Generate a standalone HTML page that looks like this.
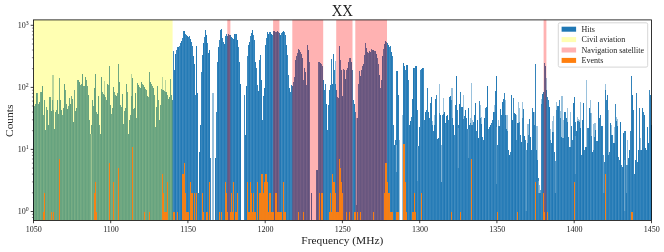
<!DOCTYPE html>
<html><head><meta charset="utf-8"><title>XX</title>
<style>
html,body{margin:0;padding:0;background:#fff}
svg{display:block}
text{font-family:"Liberation Serif","DejaVu Serif",serif;fill:#222}
</style></head><body>
<svg width="664" height="252" viewBox="0 0 664 252">
<defs>
<clipPath id="hc"><path d="M33,220.4V100.0H34.0V106.0H35.0V104.0H36.0V93.0H37.0V93.0H38.0V104.0H39.0V102.0H40.0V92.0H41.0V92.0H42.0V86.0H43.0V115.0H44.0V100.0H45.0V130.0H46.0V107.0H47.0V110.0H48.0V125.0H49.0V96.5H50.0V97.0H51.0V111.0H52.0V100.0H53.0V110.0H54.0V129.0H55.0V112.0H56.0V110.0H57.0V100.0H58.0V114.0H59.0V78.0H60.0V100.0H61.0V110.0H62.0V115.0H63.0V108.0H64.0V83.5H65.0V90.0H66.0V104.0H67.0V109.0H68.0V106.0H69.0V98.0H70.0V104.0H71.0V96.0H72.0V99.0H73.0V122.0H74.0V90.0H75.0V111.0H76.0V108.0H77.0V80.0H78.0V80.0H79.0V82.0H80.0V85.0H81.0V84.0H82.0V74.0H83.0V86.0H84.0V86.0H85.0V77.0H86.0V80.0H87.0V86.0H88.0V95.0H89.0V120.0H90.0V134.0H91.0V125.0H92.0V100.0H93.0V106.0H94.0V88.0H95.0V73.6H96.0V112.0H97.0V114.0H98.0V96.0H99.0V125.0H100.0V134.0H101.0V76.6H102.0V92.0H103.0V94.0H104.0V95.0H105.0V97.0H106.0V100.0H107.0V83.5H108.0V85.0H109.0V66.0H110.0V105.0H111.0V114.0H112.0V108.0H113.0V87.0H114.0V92.0H115.0V95.0H116.0V96.0H117.0V93.0H118.0V64.2H119.0V81.6H120.0V105.0H121.0V107.0H122.0V93.7H123.0V124.0H124.0V111.0H125.0V108.0H126.0V84.0H127.0V92.0H128.0V134.0H129.0V120.0H130.0V115.0H131.0V96.0H132.0V78.0H133.0V109.0H134.0V108.0H135.0V93.0H136.0V118.0H137.0V82.5H138.0V85.0H139.0V87.0H140.0V88.0H141.0V82.0H142.0V84.0H143.0V85.0H144.0V87.0H145.0V89.0H146.0V90.0H147.0V96.0H148.0V97.0H149.0V71.7H150.0V82.0H151.0V84.0H152.0V86.0H153.0V88.0H154.0V95.0H155.0V127.0H156.0V107.0H157.0V86.0H158.0V100.0H159.0V120.0H160.0V105.0H161.0V89.0H162.0V90.0H163.0V90.0H164.0V91.0H165.0V92.0H166.0V92.0H167.0V95.0H168.0V99.0H169.0V97.0H170.0V78.8H171.0V95.0H172.0V100.0H173.0V50.7H174.0V70.0H175.0V53.5H176.0V50.0H177.0V47.0H178.0V46.5H179.0V45.5H180.0V43.0H181.0V41.4H182.0V38.0H183.0V31.0H184.0V30.5H185.0V33.5H186.0V34.5H187.0V35.5H188.0V36.5H189.0V35.8H190.0V38.6H191.0V42.0H192.0V46.0H193.0V56.0H194.0V64.0H195.0V95.0H196.0V46.0H197.0V93.0H198.0V193.0H199.0V152.0H200.0V125.0H201.0V72.0H202.0V55.0H203.0V43.0H204.0V36.7H205.0V30.2H206.0V35.0H207.0V43.0H208.0V53.0H209.0V50.0H210.0V158.0H211.0V220.4H212.0V220.4H213.0V220.4H214.0V220.4H215.0V158.0H216.0V112.0H217.0V62.0H218.0V47.0H219.0V40.0H220.0V30.0H221.0V29.3H222.0V38.0H223.0V42.0H224.0V44.0H225.0V36.0H226.0V34.0H227.0V36.0H228.0V34.0H229.0V35.0H230.0V35.0H231.0V37.0H232.0V37.7H233.0V38.5H234.0V34.0H235.0V33.5H236.0V34.0H237.0V40.0H238.0V47.0H239.0V62.0H240.0V84.0H241.0V220.4H242.0V220.4H243.0V220.4H244.0V94.5H245.0V135.0H246.0V86.0H247.0V56.0H248.0V45.0H249.0V42.0H250.0V36.0H251.0V33.0H252.0V30.2H253.0V35.0H254.0V40.0H255.0V62.0H256.0V68.0H257.0V85.0H258.0V90.7H259.0V60.0H260.0V55.4H261.0V80.0H262.0V120.0H263.0V96.4H264.0V88.0H265.0V45.0H266.0V37.7H267.0V32.0H268.0V34.0H269.0V31.5H270.0V32.0H271.0V34.0H272.0V35.0H273.0V30.5H274.0V31.0H275.0V32.0H276.0V31.5H277.0V30.5H278.0V31.5H279.0V33.0H280.0V35.0H281.0V32.5H282.0V32.0H283.0V31.0H284.0V31.5H285.0V35.0H286.0V45.0H287.0V55.0H288.0V75.0H289.0V88.0H290.0V92.0H291.0V84.5H292.0V86.0H293.0V82.0H294.0V77.0H295.0V60.0H296.0V56.0H297.0V52.6H298.0V48.5H299.0V50.0H300.0V51.5H301.0V54.0H302.0V58.0H303.0V80.0H304.0V67.7H305.0V72.0H306.0V84.5H307.0V45.1H308.0V50.0H309.0V62.0H310.0V220.4H311.0V193.0H312.0V220.4H313.0V220.4H314.0V220.4H315.0V220.4H316.0V170.0H317.0V170.0H318.0V62.3H319.0V62.3H320.0V63.0H321.0V64.0H322.0V66.0H323.0V80.0H324.0V90.0H325.0V83.6H326.0V104.0H327.0V130.0H328.0V105.0H329.0V90.0H330.0V85.0H331.0V58.6H332.0V84.0H333.0V54.1H334.0V69.5H335.0V84.0H336.0V90.0H337.0V97.0H338.0V98.0H339.0V45.9H340.0V60.0H341.0V69.5H342.0V96.0H343.0V68.6H344.0V70.0H345.0V79.0H346.0V69.5H347.0V68.0H348.0V62.0H349.0V58.0H350.0V57.6H351.0V62.0H352.0V70.0H353.0V100.0H354.0V104.0H355.0V112.0H356.0V205.0H357.0V118.0H358.0V84.0H359.0V70.5H360.0V76.0H361.0V69.5H362.0V66.0H363.0V64.0H364.0V54.5H365.0V43.3H366.0V48.0H367.0V52.0H368.0V53.0H369.0V51.0H370.0V52.0H371.0V49.0H372.0V50.0H373.0V50.0H374.0V51.0H375.0V50.5H376.0V54.0H377.0V58.0H378.0V64.0H379.0V75.0H380.0V88.0H381.0V80.0H382.0V56.0H383.0V49.0H384.0V44.2H385.0V41.0H386.0V41.5H387.0V43.0H388.0V45.0H389.0V46.5H390.0V46.0H391.0V52.0H392.0V56.0H393.0V125.0H394.0V145.0H395.0V140.0H396.0V71.0H397.0V71.0H398.0V95.0H399.0V220.4H400.0V220.4H401.0V220.4H402.0V220.4H403.0V62.7H404.0V66.0H405.0V70.0H406.0V64.5H407.0V64.5H408.0V80.0H409.0V124.7H410.0V121.0H411.0V117.0H412.0V99.0H413.0V68.3H414.0V68.3H415.0V65.5H416.0V65.5H417.0V110.0H418.0V146.0H419.0V127.0H420.0V70.0H421.0V69.0H422.0V68.3H423.0V68.3H424.0V120.0H425.0V112.0H426.0V110.0H427.0V88.0H428.0V112.0H429.0V118.0H430.0V103.0H431.0V97.4H432.0V125.0H433.0V131.0H434.0V125.0H435.0V99.3H436.0V94.6H437.0V138.6H438.0V138.0H439.0V113.0H440.0V114.5H441.0V145.0H442.0V115.0H443.0V114.0H444.0V112.0H445.0V123.4H446.0V116.0H447.0V115.0H448.0V119.6H449.0V97.4H450.0V95.5H451.0V100.0H452.0V118.0H453.0V124.7H454.0V134.8H455.0V105.0H456.0V76.0H457.0V110.0H458.0V124.7H459.0V104.0H460.0V92.2H461.0V106.7H462.0V106.7H463.0V119.0H464.0V116.0H465.0V109.5H466.0V118.0H467.0V128.5H468.0V107.7H469.0V124.7H470.0V123.4H471.0V124.7H472.0V124.7H473.0V122.0H474.0V115.0H475.0V103.0H476.0V131.0H477.0V119.6H478.0V138.0H479.0V100.8H480.0V118.0H481.0V124.0H482.0V136.8H483.0V140.0H484.0V118.0H485.0V107.7H486.0V107.0H487.0V86.2H488.0V128.5H489.0V127.0H490.0V124.7H491.0V123.4H492.0V119.6H493.0V112.0H494.0V112.0H495.0V91.0H496.0V75.5H497.0V145.0H498.0V126.0H499.0V126.0H500.0V108.6H501.0V115.0H502.0V102.0H503.0V99.3H504.0V92.7H505.0V114.5H506.0V128.5H507.0V131.0H508.0V150.0H509.0V155.0H510.0V152.0H511.0V94.6H512.0V119.6H513.0V98.3H514.0V113.0H515.0V113.5H516.0V140.0H517.0V123.4H518.0V123.4H519.0V122.0H520.0V134.5H521.0V142.0H522.0V118.0H523.0V109.0H524.0V135.8H525.0V140.0H526.0V150.0H527.0V143.0H528.0V135.0H529.0V119.0H530.0V137.0H531.0V150.0H532.0V107.6H533.0V112.0H534.0V125.0H535.0V64.3H536.0V150.0H537.0V160.0H538.0V178.0H539.0V185.0H540.0V190.0H541.0V104.0H542.0V94.0H543.0V92.0H544.0V63.3H545.0V66.0H546.0V90.0H547.0V96.8H548.0V100.0H549.0V107.0H550.0V140.0H551.0V143.4H552.0V132.0H553.0V132.0H554.0V152.0H555.0V160.5H556.0V110.0H557.0V106.0H558.0V106.0H559.0V99.6H560.0V118.0H561.0V137.0H562.0V138.0H563.0V138.0H564.0V111.7H565.0V111.7H566.0V118.0H567.0V122.0H568.0V137.0H569.0V147.0H570.0V147.0H571.0V125.6H572.0V139.6H573.0V103.3H574.0V96.8H575.0V122.0H576.0V130.7H577.0V121.0H578.0V121.0H579.0V122.0H580.0V128.0H581.0V155.0H582.0V120.0H583.0V103.3H584.0V150.0H585.0V147.0H586.0V147.0H587.0V128.0H588.0V128.0H589.0V108.0H590.0V113.0H591.0V135.8H592.0V152.0H593.0V150.0H594.0V137.0H595.0V130.0H596.0V141.0H597.0V141.0H598.0V101.5H599.0V118.0H600.0V114.5H601.0V125.6H602.0V125.6H603.0V155.0H604.0V162.0H605.0V90.3H606.0V100.0H607.0V95.0H608.0V155.0H609.0V152.0H610.0V123.0H611.0V135.0H612.0V135.0H613.0V143.4H614.0V143.0H615.0V104.0H616.0V121.0H617.0V125.6H618.0V157.0H619.0V160.0H620.0V121.8H621.0V165.0H622.0V167.0H623.0V133.0H624.0V130.7H625.0V131.0H626.0V165.0H627.0V165.0H628.0V158.0H629.0V150.0H630.0V130.7H631.0V76.4H632.0V95.0H633.0V110.0H634.0V173.7H635.0V160.0H636.0V93.0H637.0V162.0H638.0V150.0H639.0V107.5H640.0V150.0H641.0V150.0H642.0V107.5H643.0V112.0H644.0V115.0H645.0V148.0H646.0V150.0H647.0V127.0H648.0V143.0H649.0V89.5H650.0V95.0H651.0V125.0H651.5V220.4Z"/></clipPath>
<pattern id="seam" x="33.9" y="0" width="3.09" height="10" patternUnits="userSpaceOnUse">
<rect x="0.2" y="0" width="0.9" height="10" fill="#fff" fill-opacity="0.2"/>
<rect x="1.8" y="0" width="0.4" height="10" fill="#fff" fill-opacity="0.07"/>
</pattern>
</defs>
<rect width="664" height="252" fill="#fff"/>
<path d="M33,220.4V100.0H34.0V106.0H35.0V104.0H36.0V93.0H37.0V93.0H38.0V104.0H39.0V102.0H40.0V92.0H41.0V92.0H42.0V86.0H43.0V115.0H44.0V100.0H45.0V130.0H46.0V107.0H47.0V110.0H48.0V125.0H49.0V96.5H50.0V97.0H51.0V111.0H52.0V75.0H53.0V75.0H54.0V129.0H55.0V112.0H56.0V110.0H57.0V100.0H58.0V114.0H59.0V78.0H60.0V100.0H61.0V110.0H62.0V115.0H63.0V108.0H64.0V83.5H65.0V90.0H66.0V104.0H67.0V109.0H68.0V106.0H69.0V98.0H70.0V104.0H71.0V96.0H72.0V99.0H73.0V122.0H74.0V90.0H75.0V111.0H76.0V108.0H77.0V80.0H78.0V80.0H79.0V82.0H80.0V85.0H81.0V84.0H82.0V74.0H83.0V86.0H84.0V86.0H85.0V77.0H86.0V80.0H87.0V86.0H88.0V95.0H89.0V120.0H90.0V134.0H91.0V125.0H92.0V100.0H93.0V106.0H94.0V88.0H95.0V73.6H96.0V112.0H97.0V114.0H98.0V96.0H99.0V125.0H100.0V134.0H101.0V76.6H102.0V92.0H103.0V94.0H104.0V81.0H105.0V97.0H106.0V100.0H107.0V83.5H108.0V85.0H109.0V66.0H110.0V105.0H111.0V114.0H112.0V108.0H113.0V87.0H114.0V92.0H115.0V95.0H116.0V96.0H117.0V93.0H118.0V64.2H119.0V81.6H120.0V105.0H121.0V107.0H122.0V93.7H123.0V124.0H124.0V111.0H125.0V108.0H126.0V84.0H127.0V92.0H128.0V134.0H129.0V120.0H130.0V115.0H131.0V74.0H132.0V78.0H133.0V109.0H134.0V108.0H135.0V93.0H136.0V118.0H137.0V82.5H138.0V85.0H139.0V87.0H140.0V88.0H141.0V82.0H142.0V84.0H143.0V85.0H144.0V87.0H145.0V89.0H146.0V90.0H147.0V96.0H148.0V97.0H149.0V71.7H150.0V82.0H151.0V84.0H152.0V86.0H153.0V88.0H154.0V95.0H155.0V127.0H156.0V107.0H157.0V86.0H158.0V100.0H159.0V120.0H160.0V105.0H161.0V89.0H162.0V77.0H163.0V90.0H164.0V91.0H165.0V79.7H166.0V92.0H167.0V95.0H168.0V99.0H169.0V97.0H170.0V78.8H171.0V95.0H172.0V100.0H173.0V50.7H174.0V70.0H175.0V53.5H176.0V50.0H177.0V47.0H178.0V46.5H179.0V45.5H180.0V43.0H181.0V41.4H182.0V38.0H183.0V31.0H184.0V30.5H185.0V33.5H186.0V34.5H187.0V35.5H188.0V36.5H189.0V35.8H190.0V38.6H191.0V42.0H192.0V46.0H193.0V56.0H194.0V64.0H195.0V95.0H196.0V46.0H197.0V93.0H198.0V193.0H199.0V152.0H200.0V125.0H201.0V72.0H202.0V55.0H203.0V43.0H204.0V36.7H205.0V30.2H206.0V35.0H207.0V43.0H208.0V53.0H209.0V50.0H210.0V158.0H211.0V220.4H212.0V93.0H213.0V93.0H214.0V220.4H215.0V158.0H216.0V112.0H217.0V62.0H218.0V47.0H219.0V40.0H220.0V30.0H221.0V29.3H222.0V38.0H223.0V42.0H224.0V44.0H225.0V36.0H226.0V34.0H227.0V36.0H228.0V34.0H229.0V35.0H230.0V35.0H231.0V37.0H232.0V37.7H233.0V38.5H234.0V34.0H235.0V33.5H236.0V34.0H237.0V40.0H238.0V47.0H239.0V62.0H240.0V84.0H241.0V220.4H242.0V220.4H243.0V220.4H244.0V94.5H245.0V135.0H246.0V86.0H247.0V56.0H248.0V45.0H249.0V42.0H250.0V36.0H251.0V33.0H252.0V30.2H253.0V35.0H254.0V40.0H255.0V62.0H256.0V68.0H257.0V85.0H258.0V90.7H259.0V60.0H260.0V55.4H261.0V80.0H262.0V120.0H263.0V96.4H264.0V88.0H265.0V45.0H266.0V37.7H267.0V32.0H268.0V34.0H269.0V31.5H270.0V32.0H271.0V34.0H272.0V35.0H273.0V30.5H274.0V31.0H275.0V32.0H276.0V31.5H277.0V30.5H278.0V31.5H279.0V33.0H280.0V35.0H281.0V32.5H282.0V32.0H283.0V31.0H284.0V31.5H285.0V35.0H286.0V45.0H287.0V55.0H288.0V75.0H289.0V88.0H290.0V92.0H291.0V84.5H292.0V86.0H293.0V82.0H294.0V77.0H295.0V60.0H296.0V56.0H297.0V52.6H298.0V48.5H299.0V50.0H300.0V51.5H301.0V54.0H302.0V58.0H303.0V80.0H304.0V67.7H305.0V72.0H306.0V84.5H307.0V45.1H308.0V50.0H309.0V62.0H310.0V220.4H311.0V193.0H312.0V220.4H313.0V220.4H314.0V220.4H315.0V220.4H316.0V170.0H317.0V170.0H318.0V62.3H319.0V62.3H320.0V63.0H321.0V64.0H322.0V66.0H323.0V80.0H324.0V90.0H325.0V83.6H326.0V104.0H327.0V130.0H328.0V105.0H329.0V90.0H330.0V85.0H331.0V58.6H332.0V84.0H333.0V54.1H334.0V69.5H335.0V61.4H336.0V90.0H337.0V97.0H338.0V98.0H339.0V45.9H340.0V60.0H341.0V69.5H342.0V96.0H343.0V68.6H344.0V70.0H345.0V79.0H346.0V69.5H347.0V68.0H348.0V62.0H349.0V58.0H350.0V57.6H351.0V62.0H352.0V70.0H353.0V100.0H354.0V104.0H355.0V112.0H356.0V118.0H357.0V118.0H358.0V84.0H359.0V70.5H360.0V76.0H361.0V69.5H362.0V66.0H363.0V64.0H364.0V54.5H365.0V43.3H366.0V48.0H367.0V52.0H368.0V53.0H369.0V51.0H370.0V52.0H371.0V49.0H372.0V50.0H373.0V50.0H374.0V51.0H375.0V50.5H376.0V54.0H377.0V58.0H378.0V64.0H379.0V75.0H380.0V88.0H381.0V80.0H382.0V56.0H383.0V49.0H384.0V44.2H385.0V41.0H386.0V41.5H387.0V43.0H388.0V45.0H389.0V46.5H390.0V46.0H391.0V52.0H392.0V56.0H393.0V125.0H394.0V145.0H395.0V140.0H396.0V71.0H397.0V71.0H398.0V95.0H399.0V140.0H400.0V220.4H401.0V220.4H402.0V115.0H403.0V62.7H404.0V66.0H405.0V70.0H406.0V64.5H407.0V64.5H408.0V80.0H409.0V124.7H410.0V121.0H411.0V117.0H412.0V99.0H413.0V68.3H414.0V68.3H415.0V65.5H416.0V65.5H417.0V110.0H418.0V146.0H419.0V127.0H420.0V70.0H421.0V69.0H422.0V68.3H423.0V68.3H424.0V120.0H425.0V112.0H426.0V110.0H427.0V88.0H428.0V112.0H429.0V118.0H430.0V103.0H431.0V97.4H432.0V121.0H433.0V131.0H434.0V114.5H435.0V99.3H436.0V94.6H437.0V138.6H438.0V138.0H439.0V84.3H440.0V114.5H441.0V145.0H442.0V115.0H443.0V98.3H444.0V112.0H445.0V123.4H446.0V116.0H447.0V115.0H448.0V119.6H449.0V97.4H450.0V95.5H451.0V88.4H452.0V88.4H453.0V124.7H454.0V134.8H455.0V105.0H456.0V76.0H457.0V110.0H458.0V124.7H459.0V104.0H460.0V92.2H461.0V106.7H462.0V106.7H463.0V95.2H464.0V116.0H465.0V109.5H466.0V118.0H467.0V128.5H468.0V107.7H469.0V124.7H470.0V118.0H471.0V82.8H472.0V119.6H473.0V122.0H474.0V115.0H475.0V103.0H476.0V131.0H477.0V119.6H478.0V138.0H479.0V100.8H480.0V105.0H481.0V117.0H482.0V136.8H483.0V140.0H484.0V118.0H485.0V107.7H486.0V107.0H487.0V86.2H488.0V128.5H489.0V127.0H490.0V124.7H491.0V123.4H492.0V119.6H493.0V112.0H494.0V105.0H495.0V91.0H496.0V75.5H497.0V145.0H498.0V120.0H499.0V126.0H500.0V108.6H501.0V115.0H502.0V102.0H503.0V99.3H504.0V92.7H505.0V100.0H506.0V114.5H507.0V114.5H508.0V150.0H509.0V155.0H510.0V152.0H511.0V94.6H512.0V119.6H513.0V98.3H514.0V113.0H515.0V113.5H516.0V114.5H517.0V123.4H518.0V102.4H519.0V108.0H520.0V134.5H521.0V142.0H522.0V102.0H523.0V109.0H524.0V135.8H525.0V140.0H526.0V150.0H527.0V124.0H528.0V124.0H529.0V119.0H530.0V137.0H531.0V150.0H532.0V107.6H533.0V112.0H534.0V112.0H535.0V64.3H536.0V126.0H537.0V126.0H538.0V178.0H539.0V185.0H540.0V190.0H541.0V98.7H542.0V94.0H543.0V92.0H544.0V63.3H545.0V66.0H546.0V78.3H547.0V96.8H548.0V100.0H549.0V107.0H550.0V128.8H551.0V143.4H552.0V120.5H553.0V116.4H554.0V152.0H555.0V160.5H556.0V101.5H557.0V106.0H558.0V106.0H559.0V99.6H560.0V110.8H561.0V96.4H562.0V96.4H563.0V120.0H564.0V111.7H565.0V111.7H566.0V118.0H567.0V107.6H568.0V137.0H569.0V147.0H570.0V112.0H571.0V125.6H572.0V139.6H573.0V103.3H574.0V96.8H575.0V122.0H576.0V130.7H577.0V117.0H578.0V119.0H579.0V120.0H580.0V102.4H581.0V155.0H582.0V120.0H583.0V103.3H584.0V150.0H585.0V147.0H586.0V79.6H587.0V128.0H588.0V128.0H589.0V108.0H590.0V100.2H591.0V113.0H592.0V152.0H593.0V124.0H594.0V123.0H595.0V123.0H596.0V141.0H597.0V141.0H598.0V101.5H599.0V118.0H600.0V114.5H601.0V125.6H602.0V125.6H603.0V155.0H604.0V162.0H605.0V83.5H606.0V100.0H607.0V95.0H608.0V110.0H609.0V152.0H610.0V123.0H611.0V125.0H612.0V135.0H613.0V143.4H614.0V127.0H615.0V104.0H616.0V117.0H617.0V119.0H618.0V157.0H619.0V160.0H620.0V121.8H621.0V165.0H622.0V167.0H623.0V133.0H624.0V130.7H625.0V131.0H626.0V165.0H627.0V140.0H628.0V158.0H629.0V150.0H630.0V130.7H631.0V76.4H632.0V95.0H633.0V110.0H634.0V173.7H635.0V160.0H636.0V93.0H637.0V162.0H638.0V150.0H639.0V107.5H640.0V138.0H641.0V150.0H642.0V107.5H643.0V112.0H644.0V115.0H645.0V148.0H646.0V150.0H647.0V127.0H648.0V143.0H649.0V89.5H650.0V95.0H651.0V125.0H651.5V220.4Z" fill="#1f77b4" fill-opacity="0.45" shape-rendering="crispEdges"/>
<path d="M33,220.4V100.0H34.0V106.0H35.0V104.0H36.0V93.0H37.0V93.0H38.0V104.0H39.0V102.0H40.0V92.0H41.0V92.0H42.0V86.0H43.0V115.0H44.0V100.0H45.0V130.0H46.0V107.0H47.0V110.0H48.0V125.0H49.0V96.5H50.0V97.0H51.0V111.0H52.0V100.0H53.0V110.0H54.0V129.0H55.0V112.0H56.0V110.0H57.0V100.0H58.0V114.0H59.0V78.0H60.0V100.0H61.0V110.0H62.0V115.0H63.0V108.0H64.0V83.5H65.0V90.0H66.0V104.0H67.0V109.0H68.0V106.0H69.0V98.0H70.0V104.0H71.0V96.0H72.0V99.0H73.0V122.0H74.0V90.0H75.0V111.0H76.0V108.0H77.0V80.0H78.0V80.0H79.0V82.0H80.0V85.0H81.0V84.0H82.0V74.0H83.0V86.0H84.0V86.0H85.0V77.0H86.0V80.0H87.0V86.0H88.0V95.0H89.0V120.0H90.0V134.0H91.0V125.0H92.0V100.0H93.0V106.0H94.0V88.0H95.0V73.6H96.0V112.0H97.0V114.0H98.0V96.0H99.0V125.0H100.0V134.0H101.0V76.6H102.0V92.0H103.0V94.0H104.0V95.0H105.0V97.0H106.0V100.0H107.0V83.5H108.0V85.0H109.0V66.0H110.0V105.0H111.0V114.0H112.0V108.0H113.0V87.0H114.0V92.0H115.0V95.0H116.0V96.0H117.0V93.0H118.0V64.2H119.0V81.6H120.0V105.0H121.0V107.0H122.0V93.7H123.0V124.0H124.0V111.0H125.0V108.0H126.0V84.0H127.0V92.0H128.0V134.0H129.0V120.0H130.0V115.0H131.0V96.0H132.0V78.0H133.0V109.0H134.0V108.0H135.0V93.0H136.0V118.0H137.0V82.5H138.0V85.0H139.0V87.0H140.0V88.0H141.0V82.0H142.0V84.0H143.0V85.0H144.0V87.0H145.0V89.0H146.0V90.0H147.0V96.0H148.0V97.0H149.0V71.7H150.0V82.0H151.0V84.0H152.0V86.0H153.0V88.0H154.0V95.0H155.0V127.0H156.0V107.0H157.0V86.0H158.0V100.0H159.0V120.0H160.0V105.0H161.0V89.0H162.0V90.0H163.0V90.0H164.0V91.0H165.0V92.0H166.0V92.0H167.0V95.0H168.0V99.0H169.0V97.0H170.0V78.8H171.0V95.0H172.0V100.0H173.0V50.7H174.0V70.0H175.0V53.5H176.0V50.0H177.0V47.0H178.0V46.5H179.0V45.5H180.0V43.0H181.0V41.4H182.0V38.0H183.0V31.0H184.0V30.5H185.0V33.5H186.0V34.5H187.0V35.5H188.0V36.5H189.0V35.8H190.0V38.6H191.0V42.0H192.0V46.0H193.0V56.0H194.0V64.0H195.0V95.0H196.0V46.0H197.0V93.0H198.0V193.0H199.0V152.0H200.0V125.0H201.0V72.0H202.0V55.0H203.0V43.0H204.0V36.7H205.0V30.2H206.0V35.0H207.0V43.0H208.0V53.0H209.0V50.0H210.0V158.0H211.0V220.4H212.0V220.4H213.0V220.4H214.0V220.4H215.0V158.0H216.0V112.0H217.0V62.0H218.0V47.0H219.0V40.0H220.0V30.0H221.0V29.3H222.0V38.0H223.0V42.0H224.0V44.0H225.0V36.0H226.0V34.0H227.0V36.0H228.0V34.0H229.0V35.0H230.0V35.0H231.0V37.0H232.0V37.7H233.0V38.5H234.0V34.0H235.0V33.5H236.0V34.0H237.0V40.0H238.0V47.0H239.0V62.0H240.0V84.0H241.0V220.4H242.0V220.4H243.0V220.4H244.0V94.5H245.0V135.0H246.0V86.0H247.0V56.0H248.0V45.0H249.0V42.0H250.0V36.0H251.0V33.0H252.0V30.2H253.0V35.0H254.0V40.0H255.0V62.0H256.0V68.0H257.0V85.0H258.0V90.7H259.0V60.0H260.0V55.4H261.0V80.0H262.0V120.0H263.0V96.4H264.0V88.0H265.0V45.0H266.0V37.7H267.0V32.0H268.0V34.0H269.0V31.5H270.0V32.0H271.0V34.0H272.0V35.0H273.0V30.5H274.0V31.0H275.0V32.0H276.0V31.5H277.0V30.5H278.0V31.5H279.0V33.0H280.0V35.0H281.0V32.5H282.0V32.0H283.0V31.0H284.0V31.5H285.0V35.0H286.0V45.0H287.0V55.0H288.0V75.0H289.0V88.0H290.0V92.0H291.0V84.5H292.0V86.0H293.0V82.0H294.0V77.0H295.0V60.0H296.0V56.0H297.0V52.6H298.0V48.5H299.0V50.0H300.0V51.5H301.0V54.0H302.0V58.0H303.0V80.0H304.0V67.7H305.0V72.0H306.0V84.5H307.0V45.1H308.0V50.0H309.0V62.0H310.0V220.4H311.0V193.0H312.0V220.4H313.0V220.4H314.0V220.4H315.0V220.4H316.0V170.0H317.0V170.0H318.0V62.3H319.0V62.3H320.0V63.0H321.0V64.0H322.0V66.0H323.0V80.0H324.0V90.0H325.0V83.6H326.0V104.0H327.0V130.0H328.0V105.0H329.0V90.0H330.0V85.0H331.0V58.6H332.0V84.0H333.0V54.1H334.0V69.5H335.0V84.0H336.0V90.0H337.0V97.0H338.0V98.0H339.0V45.9H340.0V60.0H341.0V69.5H342.0V96.0H343.0V68.6H344.0V70.0H345.0V79.0H346.0V69.5H347.0V68.0H348.0V62.0H349.0V58.0H350.0V57.6H351.0V62.0H352.0V70.0H353.0V100.0H354.0V104.0H355.0V112.0H356.0V205.0H357.0V118.0H358.0V84.0H359.0V70.5H360.0V76.0H361.0V69.5H362.0V66.0H363.0V64.0H364.0V54.5H365.0V43.3H366.0V48.0H367.0V52.0H368.0V53.0H369.0V51.0H370.0V52.0H371.0V49.0H372.0V50.0H373.0V50.0H374.0V51.0H375.0V50.5H376.0V54.0H377.0V58.0H378.0V64.0H379.0V75.0H380.0V88.0H381.0V80.0H382.0V56.0H383.0V49.0H384.0V44.2H385.0V41.0H386.0V41.5H387.0V43.0H388.0V45.0H389.0V46.5H390.0V46.0H391.0V52.0H392.0V56.0H393.0V125.0H394.0V145.0H395.0V140.0H396.0V71.0H397.0V71.0H398.0V95.0H399.0V220.4H400.0V220.4H401.0V220.4H402.0V220.4H403.0V62.7H404.0V66.0H405.0V70.0H406.0V64.5H407.0V64.5H408.0V80.0H409.0V124.7H410.0V121.0H411.0V117.0H412.0V99.0H413.0V68.3H414.0V68.3H415.0V65.5H416.0V65.5H417.0V110.0H418.0V146.0H419.0V127.0H420.0V70.0H421.0V69.0H422.0V68.3H423.0V68.3H424.0V120.0H425.0V112.0H426.0V110.0H427.0V88.0H428.0V112.0H429.0V118.0H430.0V103.0H431.0V97.4H432.0V125.0H433.0V131.0H434.0V125.0H435.0V99.3H436.0V94.6H437.0V138.6H438.0V138.0H439.0V113.0H440.0V114.5H441.0V145.0H442.0V115.0H443.0V114.0H444.0V112.0H445.0V123.4H446.0V116.0H447.0V115.0H448.0V119.6H449.0V97.4H450.0V95.5H451.0V100.0H452.0V118.0H453.0V124.7H454.0V134.8H455.0V105.0H456.0V76.0H457.0V110.0H458.0V124.7H459.0V104.0H460.0V92.2H461.0V106.7H462.0V106.7H463.0V119.0H464.0V116.0H465.0V109.5H466.0V118.0H467.0V128.5H468.0V107.7H469.0V124.7H470.0V123.4H471.0V124.7H472.0V124.7H473.0V122.0H474.0V115.0H475.0V103.0H476.0V131.0H477.0V119.6H478.0V138.0H479.0V100.8H480.0V118.0H481.0V124.0H482.0V136.8H483.0V140.0H484.0V118.0H485.0V107.7H486.0V107.0H487.0V86.2H488.0V128.5H489.0V127.0H490.0V124.7H491.0V123.4H492.0V119.6H493.0V112.0H494.0V112.0H495.0V91.0H496.0V75.5H497.0V145.0H498.0V126.0H499.0V126.0H500.0V108.6H501.0V115.0H502.0V102.0H503.0V99.3H504.0V92.7H505.0V114.5H506.0V128.5H507.0V131.0H508.0V150.0H509.0V155.0H510.0V152.0H511.0V94.6H512.0V119.6H513.0V98.3H514.0V113.0H515.0V113.5H516.0V140.0H517.0V123.4H518.0V123.4H519.0V122.0H520.0V134.5H521.0V142.0H522.0V118.0H523.0V109.0H524.0V135.8H525.0V140.0H526.0V150.0H527.0V143.0H528.0V135.0H529.0V119.0H530.0V137.0H531.0V150.0H532.0V107.6H533.0V112.0H534.0V125.0H535.0V64.3H536.0V150.0H537.0V160.0H538.0V178.0H539.0V185.0H540.0V190.0H541.0V104.0H542.0V94.0H543.0V92.0H544.0V63.3H545.0V66.0H546.0V90.0H547.0V96.8H548.0V100.0H549.0V107.0H550.0V140.0H551.0V143.4H552.0V132.0H553.0V132.0H554.0V152.0H555.0V160.5H556.0V110.0H557.0V106.0H558.0V106.0H559.0V99.6H560.0V118.0H561.0V137.0H562.0V138.0H563.0V138.0H564.0V111.7H565.0V111.7H566.0V118.0H567.0V122.0H568.0V137.0H569.0V147.0H570.0V147.0H571.0V125.6H572.0V139.6H573.0V103.3H574.0V96.8H575.0V122.0H576.0V130.7H577.0V121.0H578.0V121.0H579.0V122.0H580.0V128.0H581.0V155.0H582.0V120.0H583.0V103.3H584.0V150.0H585.0V147.0H586.0V147.0H587.0V128.0H588.0V128.0H589.0V108.0H590.0V113.0H591.0V135.8H592.0V152.0H593.0V150.0H594.0V137.0H595.0V130.0H596.0V141.0H597.0V141.0H598.0V101.5H599.0V118.0H600.0V114.5H601.0V125.6H602.0V125.6H603.0V155.0H604.0V162.0H605.0V90.3H606.0V100.0H607.0V95.0H608.0V155.0H609.0V152.0H610.0V123.0H611.0V135.0H612.0V135.0H613.0V143.4H614.0V143.0H615.0V104.0H616.0V121.0H617.0V125.6H618.0V157.0H619.0V160.0H620.0V121.8H621.0V165.0H622.0V167.0H623.0V133.0H624.0V130.7H625.0V131.0H626.0V165.0H627.0V165.0H628.0V158.0H629.0V150.0H630.0V130.7H631.0V76.4H632.0V95.0H633.0V110.0H634.0V173.7H635.0V160.0H636.0V93.0H637.0V162.0H638.0V150.0H639.0V107.5H640.0V150.0H641.0V150.0H642.0V107.5H643.0V112.0H644.0V115.0H645.0V148.0H646.0V150.0H647.0V127.0H648.0V143.0H649.0V89.5H650.0V95.0H651.0V125.0H651.5V220.4Z" fill="#1f77b4" shape-rendering="crispEdges"/>
<rect x="33" y="19" width="619" height="202" fill="url(#seam)" clip-path="url(#hc)"/>
<rect x="90.9" y="134.0" width="0.8" height="86.4" fill="#fff" fill-opacity="0.50"/><rect x="441.0" y="140.0" width="0.8" height="42.0" fill="#fff" fill-opacity="0.55"/><rect x="417.1" y="146.0" width="0.8" height="35.0" fill="#fff" fill-opacity="0.30"/><rect x="457.9" y="128.0" width="0.8" height="40.0" fill="#fff" fill-opacity="0.30"/><rect x="468.3" y="129.0" width="0.8" height="29.0" fill="#fff" fill-opacity="0.30"/><rect x="496.0" y="127.0" width="0.8" height="57.0" fill="#fff" fill-opacity="0.25"/><rect x="525.8" y="150.0" width="0.8" height="61.0" fill="#fff" fill-opacity="0.35"/><rect x="554.9" y="160.0" width="0.8" height="33.0" fill="#fff" fill-opacity="0.35"/><rect x="574.9" y="136.0" width="0.8" height="38.0" fill="#fff" fill-opacity="0.30"/><rect x="603.4" y="150.0" width="0.8" height="43.0" fill="#fff" fill-opacity="0.35"/><rect x="624.3" y="160.0" width="0.8" height="51.0" fill="#fff" fill-opacity="0.35"/><rect x="626.1" y="160.0" width="0.8" height="33.0" fill="#fff" fill-opacity="0.30"/><rect x="538.4" y="181.0" width="2.2" height="12.0" fill="#fff" fill-opacity="0.50"/><rect x="396.1" y="145.0" width="0.9" height="27.0" fill="#fff" fill-opacity="0.40"/>
<rect x="33.5" y="19.9" width="139.1" height="200.6" fill="#ffff00" fill-opacity="0.3"/><rect x="227.3" y="19.9" width="3.1" height="200.6" fill="#ff0000" fill-opacity="0.3"/><rect x="273.1" y="19.9" width="6.3" height="200.6" fill="#ff0000" fill-opacity="0.3"/><rect x="292.3" y="19.9" width="30.9" height="200.6" fill="#ff0000" fill-opacity="0.3"/><rect x="336.2" y="19.9" width="16.3" height="200.6" fill="#ff0000" fill-opacity="0.3"/><rect x="355.3" y="19.9" width="31.7" height="200.6" fill="#ff0000" fill-opacity="0.3"/><rect x="543.6" y="19.9" width="2.8" height="200.6" fill="#ff0000" fill-opacity="0.3"/>
<g fill="#ff7f0e" fill-opacity="0.95" shape-rendering="crispEdges"><rect x="43" y="211.5" width="1" height="8.9"/><rect x="44" y="192.8" width="1" height="27.6"/><rect x="51" y="211.5" width="1" height="8.9"/><rect x="53" y="211.5" width="1" height="8.9"/><rect x="59" y="159.0" width="1" height="61.4"/><rect x="94" y="192.8" width="1" height="27.6"/><rect x="95" y="181.9" width="1" height="38.5"/><rect x="96" y="211.5" width="1" height="8.9"/><rect x="109" y="163.2" width="1" height="57.2"/><rect x="113" y="181.9" width="1" height="38.5"/><rect x="118" y="168.1" width="1" height="52.3"/><rect x="132" y="146.5" width="1" height="73.9"/><rect x="144" y="211.5" width="1" height="8.9"/><rect x="149" y="211.5" width="1" height="8.9"/><rect x="162" y="174.1" width="1" height="46.3"/><rect x="163" y="192.8" width="1" height="27.6"/><rect x="164" y="211.5" width="1" height="8.9"/><rect x="165" y="211.5" width="1" height="8.9"/><rect x="166" y="211.5" width="1" height="8.9"/><rect x="167" y="181.9" width="1" height="38.5"/><rect x="173" y="211.5" width="1" height="8.9"/><rect x="174" y="211.5" width="1" height="8.9"/><rect x="177" y="211.5" width="1" height="8.9"/><rect x="182" y="174.1" width="1" height="46.3"/><rect x="183" y="174.1" width="1" height="46.3"/><rect x="184" y="163.2" width="1" height="57.2"/><rect x="185" y="192.8" width="1" height="27.6"/><rect x="186" y="211.5" width="1" height="8.9"/><rect x="187" y="211.5" width="1" height="8.9"/><rect x="188" y="211.5" width="1" height="8.9"/><rect x="190" y="181.9" width="1" height="38.5"/><rect x="191" y="192.8" width="1" height="27.6"/><rect x="192" y="192.8" width="1" height="27.6"/><rect x="194" y="192.8" width="1" height="27.6"/><rect x="196" y="192.8" width="1" height="27.6"/><rect x="202" y="192.8" width="1" height="27.6"/><rect x="203" y="211.5" width="1" height="8.9"/><rect x="206" y="211.5" width="1" height="8.9"/><rect x="207" y="211.5" width="1" height="8.9"/><rect x="209" y="181.9" width="1" height="38.5"/><rect x="219" y="211.5" width="1" height="8.9"/><rect x="221" y="211.5" width="1" height="8.9"/><rect x="225" y="181.9" width="1" height="38.5"/><rect x="226" y="192.8" width="1" height="27.6"/><rect x="227" y="211.5" width="1" height="8.9"/><rect x="230" y="211.5" width="1" height="8.9"/><rect x="231" y="192.8" width="1" height="27.6"/><rect x="232" y="211.5" width="1" height="8.9"/><rect x="233" y="181.9" width="1" height="38.5"/><rect x="235" y="211.5" width="1" height="8.9"/><rect x="236" y="211.5" width="1" height="8.9"/><rect x="237" y="192.8" width="1" height="27.6"/><rect x="247" y="181.9" width="1" height="38.5"/><rect x="248" y="211.5" width="1" height="8.9"/><rect x="249" y="211.5" width="1" height="8.9"/><rect x="250" y="181.9" width="1" height="38.5"/><rect x="251" y="192.8" width="1" height="27.6"/><rect x="252" y="211.5" width="1" height="8.9"/><rect x="253" y="192.8" width="1" height="27.6"/><rect x="254" y="211.5" width="1" height="8.9"/><rect x="255" y="211.5" width="1" height="8.9"/><rect x="257" y="181.9" width="1" height="38.5"/><rect x="259" y="192.8" width="1" height="27.6"/><rect x="260" y="192.8" width="1" height="27.6"/><rect x="261" y="174.1" width="1" height="46.3"/><rect x="262" y="174.1" width="1" height="46.3"/><rect x="263" y="192.8" width="1" height="27.6"/><rect x="264" y="181.9" width="1" height="38.5"/><rect x="265" y="174.1" width="1" height="46.3"/><rect x="266" y="174.1" width="1" height="46.3"/><rect x="267" y="181.9" width="1" height="38.5"/><rect x="268" y="211.5" width="1" height="8.9"/><rect x="269" y="192.8" width="1" height="27.6"/><rect x="270" y="192.8" width="1" height="27.6"/><rect x="271" y="211.5" width="1" height="8.9"/><rect x="272" y="211.5" width="1" height="8.9"/><rect x="273" y="211.5" width="1" height="8.9"/><rect x="275" y="192.8" width="1" height="27.6"/><rect x="276" y="192.8" width="1" height="27.6"/><rect x="277" y="211.5" width="1" height="8.9"/><rect x="278" y="211.5" width="1" height="8.9"/><rect x="279" y="211.5" width="1" height="8.9"/><rect x="280" y="211.5" width="1" height="8.9"/><rect x="281" y="211.5" width="1" height="8.9"/><rect x="283" y="181.9" width="1" height="38.5"/><rect x="284" y="211.5" width="1" height="8.9"/><rect x="285" y="211.5" width="1" height="8.9"/><rect x="298" y="211.5" width="1" height="8.9"/><rect x="303" y="211.5" width="1" height="8.9"/><rect x="319" y="192.8" width="1" height="27.6"/><rect x="321" y="192.8" width="1" height="27.6"/><rect x="322" y="192.8" width="1" height="27.6"/><rect x="329" y="211.5" width="1" height="8.9"/><rect x="330" y="192.8" width="1" height="27.6"/><rect x="331" y="211.5" width="1" height="8.9"/><rect x="332" y="174.1" width="1" height="46.3"/><rect x="333" y="181.9" width="1" height="38.5"/><rect x="334" y="181.9" width="1" height="38.5"/><rect x="335" y="192.8" width="1" height="27.6"/><rect x="336" y="211.5" width="1" height="8.9"/><rect x="337" y="211.5" width="1" height="8.9"/><rect x="338" y="211.5" width="1" height="8.9"/><rect x="339" y="159.0" width="1" height="61.4"/><rect x="340" y="168.1" width="1" height="52.3"/><rect x="341" y="181.9" width="1" height="38.5"/><rect x="342" y="192.8" width="1" height="27.6"/><rect x="346" y="211.5" width="1" height="8.9"/><rect x="349" y="211.5" width="1" height="8.9"/><rect x="354" y="211.5" width="1" height="8.9"/><rect x="355" y="211.5" width="1" height="8.9"/><rect x="357" y="211.5" width="1" height="8.9"/><rect x="360" y="211.5" width="1" height="8.9"/><rect x="373" y="211.5" width="1" height="8.9"/><rect x="384" y="192.8" width="1" height="27.6"/><rect x="385" y="163.2" width="1" height="57.2"/><rect x="386" y="163.2" width="1" height="57.2"/><rect x="387" y="181.9" width="1" height="38.5"/><rect x="388" y="192.8" width="1" height="27.6"/><rect x="389" y="192.8" width="1" height="27.6"/><rect x="390" y="211.5" width="1" height="8.9"/><rect x="391" y="211.5" width="1" height="8.9"/><rect x="392" y="211.5" width="1" height="8.9"/><rect x="396" y="211.5" width="1" height="8.9"/><rect x="397" y="211.5" width="1" height="8.9"/><rect x="398" y="211.5" width="1" height="8.9"/><rect x="403" y="144.3" width="1" height="76.1"/><rect x="404" y="144.3" width="1" height="76.1"/><rect x="405" y="181.9" width="1" height="38.5"/><rect x="406" y="211.5" width="1" height="8.9"/><rect x="412" y="211.5" width="1" height="8.9"/><rect x="413" y="211.5" width="1" height="8.9"/><rect x="414" y="192.8" width="1" height="27.6"/><rect x="415" y="211.5" width="1" height="8.9"/><rect x="421" y="192.8" width="1" height="27.6"/><rect x="451" y="211.5" width="1" height="8.9"/><rect x="460" y="211.5" width="1" height="8.9"/><rect x="471" y="159.0" width="1" height="61.4"/><rect x="497" y="211.5" width="1" height="8.9"/><rect x="517" y="211.5" width="1" height="8.9"/><rect x="535" y="181.9" width="1" height="38.5"/><rect x="543" y="192.8" width="1" height="27.6"/><rect x="544" y="211.5" width="1" height="8.9"/><rect x="547" y="211.5" width="1" height="8.9"/><rect x="574" y="181.9" width="1" height="38.5"/><rect x="605" y="174.1" width="1" height="46.3"/><rect x="631" y="211.5" width="1" height="8.9"/><rect x="632" y="211.5" width="1" height="8.9"/></g>
<rect x="33.5" y="19.9" width="618.0" height="200.6" fill="none" stroke="#111" stroke-width="0.85"/>
<g stroke="#111" stroke-width="0.8"><line x1="33.5" y1="220.4" x2="33.5" y2="223.2"/><line x1="110.7" y1="220.4" x2="110.7" y2="223.2"/><line x1="187.9" y1="220.4" x2="187.9" y2="223.2"/><line x1="265.2" y1="220.4" x2="265.2" y2="223.2"/><line x1="342.4" y1="220.4" x2="342.4" y2="223.2"/><line x1="419.7" y1="220.4" x2="419.7" y2="223.2"/><line x1="496.9" y1="220.4" x2="496.9" y2="223.2"/><line x1="574.2" y1="220.4" x2="574.2" y2="223.2"/><line x1="651.5" y1="220.4" x2="651.5" y2="223.2"/><line x1="30.7" y1="211.5" x2="33.5" y2="211.5"/><line x1="30.7" y1="149.4" x2="33.5" y2="149.4"/><line x1="30.7" y1="87.4" x2="33.5" y2="87.4"/><line x1="30.7" y1="25.3" x2="33.5" y2="25.3"/></g>
<g stroke="#222" stroke-width="0.5"><line x1="31.9" y1="217.5" x2="33.5" y2="217.5"/><line x1="31.9" y1="214.3" x2="33.5" y2="214.3"/><line x1="31.9" y1="192.8" x2="33.5" y2="192.8"/><line x1="31.9" y1="181.9" x2="33.5" y2="181.9"/><line x1="31.9" y1="174.1" x2="33.5" y2="174.1"/><line x1="31.9" y1="168.1" x2="33.5" y2="168.1"/><line x1="31.9" y1="163.2" x2="33.5" y2="163.2"/><line x1="31.9" y1="159.0" x2="33.5" y2="159.0"/><line x1="31.9" y1="155.4" x2="33.5" y2="155.4"/><line x1="31.9" y1="152.3" x2="33.5" y2="152.3"/><line x1="31.9" y1="130.7" x2="33.5" y2="130.7"/><line x1="31.9" y1="119.8" x2="33.5" y2="119.8"/><line x1="31.9" y1="112.1" x2="33.5" y2="112.1"/><line x1="31.9" y1="106.0" x2="33.5" y2="106.0"/><line x1="31.9" y1="101.1" x2="33.5" y2="101.1"/><line x1="31.9" y1="97.0" x2="33.5" y2="97.0"/><line x1="31.9" y1="93.4" x2="33.5" y2="93.4"/><line x1="31.9" y1="90.2" x2="33.5" y2="90.2"/><line x1="31.9" y1="68.7" x2="33.5" y2="68.7"/><line x1="31.9" y1="57.7" x2="33.5" y2="57.7"/><line x1="31.9" y1="50.0" x2="33.5" y2="50.0"/><line x1="31.9" y1="44.0" x2="33.5" y2="44.0"/><line x1="31.9" y1="39.1" x2="33.5" y2="39.1"/><line x1="31.9" y1="34.9" x2="33.5" y2="34.9"/><line x1="31.9" y1="31.3" x2="33.5" y2="31.3"/><line x1="31.9" y1="28.1" x2="33.5" y2="28.1"/></g>
<g font-size="8"><text x="33.8" y="232" text-anchor="middle">1050</text><text x="111.0" y="232" text-anchor="middle">1100</text><text x="188.2" y="232" text-anchor="middle">1150</text><text x="265.5" y="232" text-anchor="middle">1200</text><text x="342.8" y="232" text-anchor="middle">1250</text><text x="420.0" y="232" text-anchor="middle">1300</text><text x="497.2" y="232" text-anchor="middle">1350</text><text x="574.5" y="232" text-anchor="middle">1400</text><text x="651.8" y="232" text-anchor="middle">1450</text></g>
<g font-size="8"><text x="28.6" y="214.1" text-anchor="end">10<tspan dy="-2.9" font-size="5.8">0</tspan></text><text x="28.6" y="152.0" text-anchor="end">10<tspan dy="-2.9" font-size="5.8">1</tspan></text><text x="28.6" y="90.0" text-anchor="end">10<tspan dy="-2.9" font-size="5.8">2</tspan></text><text x="28.6" y="27.9" text-anchor="end">10<tspan dy="-2.9" font-size="5.8">3</tspan></text></g>
<text transform="translate(342.2,16.1) scale(0.87,1)" text-anchor="middle" font-size="16.8">XX</text>
<text x="342.3" y="244.3" text-anchor="middle" font-size="11.4">Frequency (MHz)</text>
<text transform="translate(13.3,120.8) rotate(-90)" text-anchor="middle" font-size="11.4">Counts</text>
<rect x="558.3" y="22.8" width="89.4" height="44.3" rx="1.6" fill="#fff" fill-opacity="0.8" stroke="#ccc" stroke-width="0.8"/>
<g font-size="8"><rect x="561.6" y="26.7" width="14.5" height="5" fill="#1f77b4"/><text x="581.6" y="31.7">Hits</text><rect x="561.6" y="37.1" width="14.5" height="5" fill="#ffffb2"/><text x="581.6" y="42.1">Civil aviation</text><rect x="561.6" y="47.5" width="14.5" height="5" fill="#ffb2b2"/><text x="581.6" y="52.5">Navigation satellite</text><rect x="561.6" y="57.9" width="14.5" height="5" fill="#ff7f0e"/><text x="581.6" y="62.9">Events</text></g>
</svg>
</body></html>
